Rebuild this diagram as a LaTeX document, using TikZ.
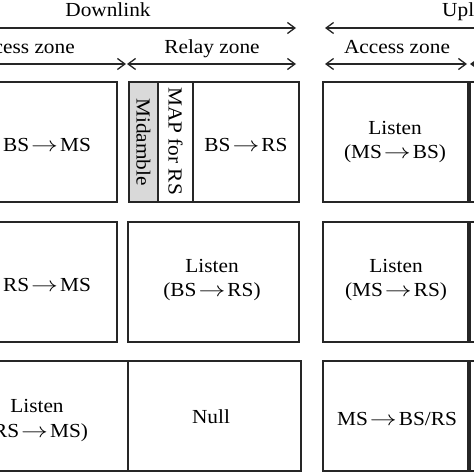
\documentclass[tikz,border=0pt]{standalone}
\usepackage{fontspec}
\usepackage{graphicx}
\setmainfont{Liberation Serif}[FakeStretch=1.07]
\usetikzlibrary{arrows.meta}
\newcommand{\arr}{\hspace{2bp}\scalebox{1.3}[1]{$\rightarrow$}\hspace{2bp}}
\begin{document}
\begin{tikzpicture}[x=1bp,y=-1bp,
  box/.style={draw=black!85, line width=1.6bp},
  grey/.style={box, fill=black!15},
  lbl/.style={font=\fontsize{20}{24}\selectfont, anchor=base, inner sep=0pt},
  zline/.style={line width=1.3bp, draw=black!85},
  barb/.tip={Straight Barb[length=7.5bp,width=11bp,line width=1.3bp]}]
\useasboundingbox (0,0) rectangle (474,474);
\fill[white] (0,0) rectangle (474,474);
\clip (0,0) rectangle (474,474);
% ---- zone arrows ----
\coordinate (dlL) at (-20,28); \coordinate (dlR) at (296,28);
\coordinate (ulL) at (325,28); \coordinate (ulR) at (500,28);
\coordinate (a1L) at (-20,64); \coordinate (a1R) at (126,64);
\coordinate (r1L) at (127,64); \coordinate (r1R) at (296,64);
\coordinate (a2L) at (325,64); \coordinate (a2R) at (467,64);
\coordinate (nxL) at (470,64); \coordinate (nxR) at (560,64);
\draw[zline, -barb] (dlL) -- (dlR);
\draw[zline, barb-] (ulL) -- (ulR);
\draw[zline, -barb] (a1L) -- (a1R);
\draw[zline, barb-barb] (r1L) -- (r1R);
\draw[zline, barb-barb] (a2L) -- (a2R);
\draw[zline, barb-] (nxL) -- (nxR);
\node[lbl] (tdl) at (108,17) {Downlink};
\node[lbl, anchor=base west] (tul) at (442,17) {Uplink};
\node[lbl, anchor=base east] (tacc1) at (75,54) {Access zone};
\node[lbl] (trel) at (212,54) {Relay zone};
\node[lbl] (tacc2) at (397,54) {Access zone};
% ---- row 1 ----
\draw[box] (-30,82) rectangle (117,202);
\draw[grey] (129,82) rectangle (158,202);
\draw[box] (158,82) rectangle (193,202);
\draw[box] (193,82) rectangle (299,202);
\draw[box] (323,82) rectangle (468,202);
\draw[box] (470,82) rectangle (560,202);
\node[lbl] (b11) at (47,152) {BS\arr MS};
\node[lbl, anchor=center, rotate=-90] (mid) at (143.5,142) {Midamble};
\node[lbl, anchor=center, rotate=-90] (map) at (175.5,141) {MAP for RS};
\node[lbl] (b12) at (246,152) {BS\arr RS};
\node[lbl] (b13a) at (395,135) {Listen};
\node[lbl] (b13b) at (395,159) {(MS\arr BS)};
% ---- row 2 ----
\draw[box] (-30,222) rectangle (117,342);
\draw[box] (128,222) rectangle (299,342);
\draw[box] (323,222) rectangle (468,342);
\draw[box] (470,222) rectangle (560,342);
\node[lbl] (b21) at (47,291) {RS\arr MS};
\node[lbl] (b22a) at (212,272) {Listen};
\node[lbl] (b22b) at (212,296) {(BS\arr RS)};
\node[lbl] (b23a) at (396,272) {Listen};
\node[lbl] (b23b) at (396,296) {(MS\arr RS)};
% ---- row 3 ----
\draw[box] (-60,361) rectangle (128,471);
\draw[box] (128,361) rectangle (301,471);
\draw[box] (323,361) rectangle (468,471);
\draw[box] (470,361) rectangle (560,471);
\node[lbl] (b31a) at (37,412) {Listen};
\node[lbl] (b31b) at (37,437) {(RS\arr MS)};
\node[lbl] (b32) at (211,423) {Null};
\node[lbl] (b33) at (397,425) {MS\arr BS/RS};
\end{tikzpicture}
\end{document}
